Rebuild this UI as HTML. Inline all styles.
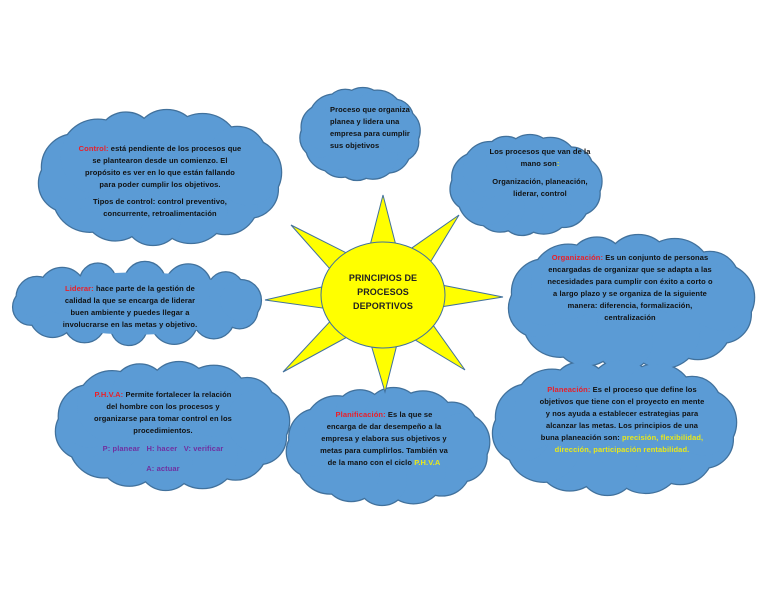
<!DOCTYPE html>
<html><head><meta charset="utf-8"><style>
body{margin:0;width:768px;height:594px;background:#fff;position:relative;overflow:hidden;font-family:"Liberation Sans",sans-serif}
svg{position:absolute;left:0;top:0}
.t{position:absolute;font-size:7.5px;font-weight:bold;line-height:12px;color:#111;text-align:center;letter-spacing:0.1px}
.r{color:#e8202a}.y{color:#e8e81a}.p{color:#7030a0}
</style></head><body>
<svg id="s" width="768" height="594"></svg>
<div class="t" style="left:78px;top:143px;width:164px"><span class="r">Control:</span> está pendiente de los procesos que se plantearon desde un comienzo. El propósito es ver en lo que están fallando para poder cumplir los objetivos.<div style="margin-top:5px">Tipos de control: control preventivo, concurrente, retroalimentación</div></div>
<div class="t" style="left:330px;top:104px;width:85px;text-align:left">Proceso que organiza planea y lidera una empresa para cumplir sus objetivos</div>
<div class="t" style="left:488px;top:146px;width:104px">Los procesos que van de la mano son<span class="y">:</span><div style="margin-top:6px">Organización, planeación, liderar, control</div></div>
<div class="t" style="left:55px;top:283px;width:150px"><span class="r">Liderar:</span> hace parte de la gestión de calidad la que se encarga de liderar buen ambiente y puedes llegar a involucrarse en las metas y objetivo.</div>
<div class="t" style="left:545px;top:252px;width:170px"><span class="r">Organización:</span> Es un conjunto de personas encargadas de organizar que se adapta a las necesidades para cumplir con éxito a corto o a largo plazo y se organiza de la siguiente manera: diferencia, formalización, centralización</div>
<div class="t" style="left:92px;top:389px;width:142px"><span class="r">P.H.V.A:</span> Permite fortalecer la relación del hombre con los procesos y organizarse para tomar control en los procedimientos.<div class="p" style="margin-top:6px">P: planear &nbsp; H: hacer &nbsp; V: verificar</div><div class="p" style="margin-top:8px">A: actuar</div></div>
<div class="t" style="left:320px;top:409px;width:128px"><span class="r">Planificación:</span> Es la que se encarga de dar desempeño a la empresa y elabora sus objetivos y metas para cumplirlos. También va de la mano con el ciclo <span class="y">P.H.V.A</span></div>
<div class="t" style="left:538px;top:384px;width:168px"><span class="r">Planeación:</span> Es el proceso que define los objetivos que tiene con el proyecto en mente y nos ayuda a establecer estrategias para alcanzar las metas. Los principios de una buna planeación son: <span class="y">precisión, flexibilidad, dirección, participación rentabilidad.</span></div>
<div class="t" style="left:333px;top:271px;width:100px;font-size:9px;line-height:14px;color:#222">PRINCIPIOS DE PROCESOS DEPORTIVOS</div>
<script>
var s=document.getElementById('s'),out='',inn='';
function cloud(x0,y0,x1,y1){var cx=(x0+x1)/2,cy=(y0+y1)/2,a=(x1-x0)/2,b=(y1-y0)/2,n=14;
 var rr=Math.min(a,b)*0.5;
 inn+='<ellipse cx="'+cx+'" cy="'+cy+'" rx="'+(a-rr*0.5)+'" ry="'+(b-rr*0.5)+'" fill="#5b9bd5"/>';
 for(var i=0;i<n;i++){var t=i/n*2*Math.PI+0.3,r=rr*(0.85+0.25*((i*7)%3)/2);
  var px=cx+(a-r)*Math.cos(t),py=cy+(b-r)*Math.sin(t);
  out+='<circle cx="'+px+'" cy="'+py+'" r="'+r+'" fill="#41719c" stroke="#41719c" stroke-width="2.5"/>';
  inn+='<circle cx="'+px+'" cy="'+py+'" r="'+r+'" fill="#5b9bd5"/>';}}
cloud(38,110,282,245);cloud(300,88,420,180);cloud(450,135,602,235);cloud(12,262,262,345);
cloud(508,235,755,370);cloud(55,362,290,490);cloud(286,388,490,505);cloud(492,360,737,495);
var sun='',cx=383,cy=295,rx=62,ry=53;
[[383,195],[459,215],[503,297],[465,370],[385,392],[283,372],[265,300],[291,225]].forEach(function(p){
 var ang=Math.atan2((p[1]-cy)/ry,(p[0]-cx)/rx),d=0.2;
 var b1=[cx+rx*Math.cos(ang-d),cy+ry*Math.sin(ang-d)],b2=[cx+rx*Math.cos(ang+d),cy+ry*Math.sin(ang+d)];
 sun+='<polygon points="'+p+' '+b1+' '+b2+'" fill="#ffff00" stroke="#41719c" stroke-width="1"/>';});
sun+='<ellipse cx="'+cx+'" cy="'+cy+'" rx="'+rx+'" ry="'+ry+'" fill="#ffff00" stroke="#41719c" stroke-width="1"/>';
s.innerHTML=out+inn+sun;
</script>
</body></html>
